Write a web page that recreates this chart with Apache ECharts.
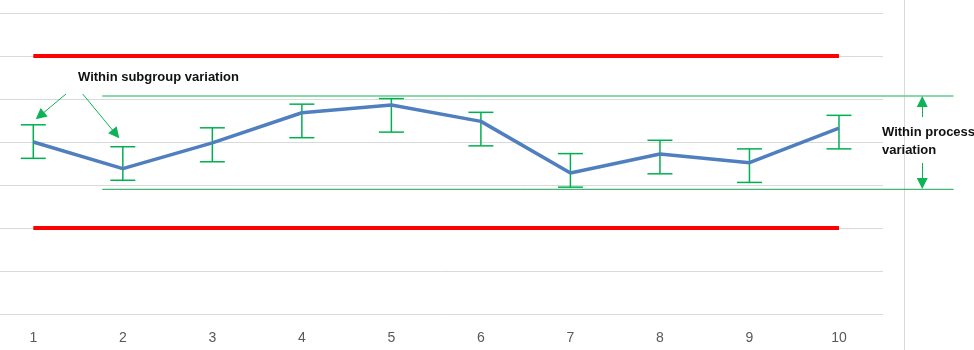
<!DOCTYPE html>
<html>
<head>
<meta charset="utf-8">
<script src="https://cdn.jsdelivr.net/npm/echarts@6/dist/echarts.min.js"></script>
<style>html,body{margin:0;padding:0;background:#fff}#c{width:974px;height:350px}</style>
</head>
<body>
<div id="c"></div>
<script>
// ---- data ----
const categories = ['1','2','3','4','5','6','7','8','9','10'];
const subgroupMeans = [20.0, 16.9, 19.9, 23.4, 24.3, 22.4, 16.4, 18.6, 17.6, 21.6];
const subgroupHigh = [22.0, 19.45, 21.65, 24.4, 25.05, 23.45, 18.65, 20.2, 19.2, 23.1];
const subgroupLow  = [18.1, 15.55, 17.7, 20.5, 21.15, 19.55, 14.75, 16.3, 15.3, 19.2];
const UCL = 30;
const LCL = 10;
const processHigh = 25.35;
const processLow = 14.5;
const processLineRange = [1.77, 11.28];
const subgroupArrows = [[[1.365, 25.58], [1.074, 23.05]], [[1.552, 25.58], [1.922, 20.92]]];
const processArrowX = 10.93;
const processArrows = [[22.9, 24.7], [17.56, 15.17]];
const yTicks = {min: 0, max: 35, interval: 5};

const xs = categories.map((c, i) => i + 1);
const green = '#0fb357';
const xMin = 0.628, pxPerUnit = 89.52;

const chart = echarts.init(document.getElementById('c'));
chart.setOption({
  animation: false,
  grid: [
    {left: 0, right: 91, top: 13, bottom: 36},
    {left: 0, right: 0, top: 13, bottom: 36}
  ],
  xAxis: [{
    type: 'value', gridIndex: 0, min: xMin, max: xMin + 883 / pxPerUnit,
    axisLine: {show: false}, axisTick: {show: false}, splitLine: {show: false},
    axisLabel: {
      customValues: xs, margin: 17, color: '#595959', fontSize: 14, fontFamily: 'Liberation Sans',
      formatter: v => categories[Math.round(v) - 1] || ''
    }
  }, {
    type: 'value', gridIndex: 1, min: xMin, max: xMin + 974 / pxPerUnit, show: false
  }],
  yAxis: [{
    type: 'value', gridIndex: 0, min: yTicks.min, max: yTicks.max, interval: yTicks.interval,
    axisLine: {show: false}, axisTick: {show: false}, axisLabel: {show: false},
    splitLine: {lineStyle: {color: '#d9d9d9', width: 1}}
  }, {
    type: 'value', gridIndex: 1, min: yTicks.min, max: yTicks.max, show: false
  }],
  graphic: [
    {type: 'line', shape: {x1: 904.5, y1: 0, x2: 904.5, y2: 350}, style: {stroke: '#d9d9d9', lineWidth: 1}, silent: true},
    {type: 'text', left: 78, top: 71, style: {text: 'Within subgroup variation', font: 'bold 13px "Liberation Sans"', fill: '#111'}},
    {type: 'text', left: 882, top: 123, style: {text: 'Within process\nvariation', font: 'bold 13px "Liberation Sans"', lineHeight: 18, fill: '#111'}}
  ],
  series: [
    {type: 'line', data: [[xs[0], UCL], [xs[xs.length - 1], UCL]], symbol: 'none', lineStyle: {color: '#ff0000', width: 4}},
    {type: 'line', data: [[xs[0], LCL], [xs[xs.length - 1], LCL]], symbol: 'none', lineStyle: {color: '#ff0000', width: 4}},
    {type: 'line', xAxisIndex: 1, yAxisIndex: 1, data: [[processLineRange[0], processHigh], [processLineRange[1], processHigh]], symbol: 'none', lineStyle: {color: '#5fcf8f', width: 1.5}},
    {type: 'line', xAxisIndex: 1, yAxisIndex: 1, data: [[processLineRange[0], processLow], [processLineRange[1], processLow]], symbol: 'none', lineStyle: {color: '#1aa353', width: 1},
      markLine: {
        silent: true, symbol: ['none', 'triangle'], symbolSize: [11, 11],
        label: {show: false},
        lineStyle: {color: green, width: 1, type: 'solid'},
        emphasis: {disabled: true},
        data: subgroupArrows.map(a => [{coord: a[0]}, {coord: a[1]}])
          .concat(processArrows.map(a => [{coord: [processArrowX, a[0]]}, {coord: [processArrowX, a[1]]}]))
      }
    },
    {
      type: 'custom',
      data: xs.map((x, i) => [x, subgroupLow[i], subgroupHigh[i]]),
      renderItem: function (params, api) {
        const x = api.value(0);
        const pLo = api.coord([x, api.value(1)]);
        const pHi = api.coord([x, api.value(2)]);
        const w = 12.5;
        const st = {stroke: '#00b050', lineWidth: 1.5};
        return {type: 'group', children: [
          {type: 'line', shape: {x1: pLo[0], y1: pLo[1], x2: pHi[0], y2: pHi[1]}, style: st},
          {type: 'line', shape: {x1: pHi[0] - w, y1: pHi[1], x2: pHi[0] + w, y2: pHi[1]}, style: st},
          {type: 'line', shape: {x1: pLo[0] - w, y1: pLo[1], x2: pLo[0] + w, y2: pLo[1]}, style: st}
        ]};
      }
    },
    {type: 'line', data: xs.map((x, i) => [x, subgroupMeans[i]]), symbol: 'none', lineStyle: {color: '#4f7fbf', width: 3.5}}
  ]
});
</script>
</body>
</html>
